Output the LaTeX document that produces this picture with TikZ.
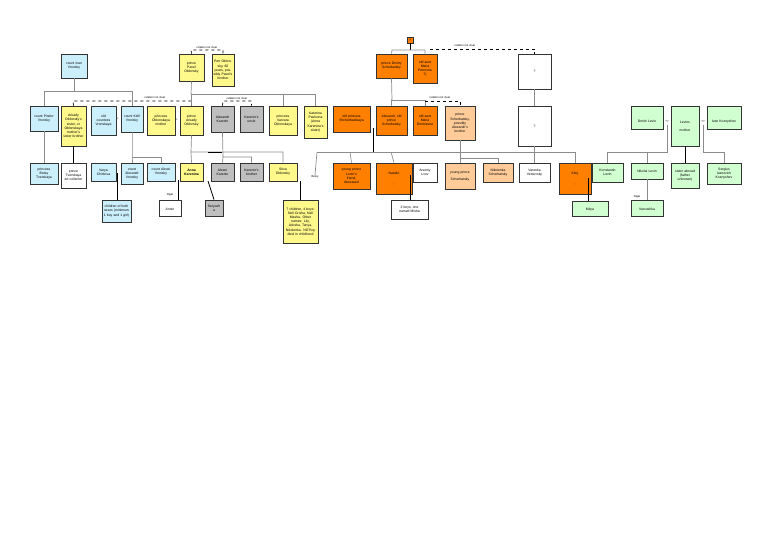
\documentclass[tikz,border=0pt]{standalone}
\usepackage{fontspec}
\setmainfont{Liberation Sans}
\begin{document}
\begin{tikzpicture}[x=1pt,y=-1pt,
  box/.style={draw=black!80,line width=0.9pt,inner sep=0.5pt,align=center,font=\fontsize{3.4}{4.2}\selectfont},
  cy/.style={box,fill=cyan!20},
  ye/.style={box,fill=yellow!45},
  gr/.style={box,fill=black!25},
  orn/.style={box,fill=orange},
  lo/.style={box,fill=orange!40},
  gn/.style={box,fill=green!18},
  wh/.style={box,fill=white},
  ln/.style={draw=black!45,line width=0.7pt},
  bl/.style={draw=black,line width=0.8pt},
  ds/.style={draw=black,dashed,line width=0.7pt},
  lbl/.style={font=\fontsize{2.8}{3}\selectfont,inner sep=0.5pt}]
\newcommand\bx[7]{\node[#6,minimum width={(#4-#2)*1pt},minimum height={(#5-#3)*1pt},text width={(#4-#2-2)*1pt}] (#1) at ({(#2+#4)/2},{(#3+#5)/2}) {#7};}
\useasboundingbox (0,0) rectangle (768,543);
% Vronsky
\bx{ivan}{61}{54}{87}{78}{cy}{count Ivan\\Vronsky}
\bx{pindor}{30}{106}{58}{131}{cy}{count Pindor\\Vronsky}
\bx{asis}{61}{106}{86}{146}{ye}{Arkady Oblonsky's sister, or Oblonskaya mother's sister brother}
\bx{oldc}{91}{106}{116}{135}{cy}{old\\countess\\Vronskaya}
\bx{kirill}{121}{106}{143}{132}{cy}{count Kirill\\Vronsky}
\bx{omother}{147}{106}{175}{135}{ye}{princess\\Oblonskaya\\mother}
\bx{arkady}{180}{106}{203}{135}{ye}{prince\\Arkady\\Oblonsky}
\bx{pavel}{179}{54}{204}{81}{ye}{prince\\Pavel\\Oblonsky}
\bx{petr}{212}{54}{234}{86}{ye}{Petr Oblonsky, 60 years, possibly Pavel's brother}
\bx{akarenin}{211}{106}{234}{132}{gr}{Alexandr\\Karenin}
\bx{kuncle}{240}{106}{263}{132}{gr}{Karenin's\\uncle}
\bx{varvara}{269}{106}{297}{135}{ye}{princess\\Varvara\\Oblonskaya}
\bx{katerina}{304}{106}{327}{138}{ye}{Katerina Pavlovna (Anna Karenina's sister)}
\bx{betsy}{30}{163}{58}{184}{cy}{princess\\Betsy\\Tverskaya}
\bx{tver}{61}{163}{86}{188}{wh}{prince\\Tverskaya\\art collector}
\bx{varya}{91}{163}{116}{181}{cy}{Varya\\Chirkova}
\bx{calex}{121}{163}{143}{184}{cy}{count\\Alexandr\\Vronsky}
\bx{alexei}{147}{163}{175}{181}{cy}{count Alexei\\Vronsky}
\bx{anna}{180}{163}{203}{181}{ye}{\bfseries Anna\\Karenina}
\bx{akar}{211}{163}{234}{181}{gr}{Alexei\\Karenin}
\bx{kbro}{240}{163}{263}{181}{gr}{Karenin's\\brother}
\bx{stiva}{269}{163}{297}{181}{ye}{Stiva\\Oblonsky}
\bx{kids}{102}{200}{131}{222}{cy}{children of both sexes (minimum 1 boy and 1 girl)}
\bx{annie}{159}{200}{181}{216}{wh}{\\Annie}
\bx{ser}{205}{200}{223}{216}{gr}{Seryozh\\a}
\bx{seven}{283}{200}{318}{243}{ye}{\raggedright 7 children, 4 boys: Nell Grisha, Nell Masha. Other names: Lily, Aliosha, Tanya, Nikolenka. NOTtoy died in childhood}
% Scherbatsky
\bx{q0}{407}{37}{413}{43}{orn}{?}
\bx{dmitry}{376}{54}{407}{78}{orn}{prince Dmitry\\Scherbatsky}
\bx{mpet}{413}{54}{437}{83}{orn}{old aunt\\Maria\\Petrovna\\?)}
\bx{q1}{518}{54}{551}{89}{wh}{?}
\bx{q2}{518}{106}{551}{146}{wh}{?}
\bx{oldpr}{333}{106}{370}{132}{orn}{old princess\\Shcherbatskaya}
\bx{alexs}{376}{106}{407}{135}{orn}{Alexandr, old\\prince\\Scherbatsky}
\bx{mdm}{413}{106}{437}{135}{orn}{old aunt\\Maria\\Dmitrievna}
\bx{psch}{445}{106}{475}{140}{lo}{prince\\Scherbatsky,\\possibly\\Alexandr's\\brother}
\node[lbl] (betsyl) at (315,177) {Betsy};
\bx{yprince}{333}{163}{370}{189}{orn}{young prince\\Levin's\\friend,\\deceased}
\bx{natalie}{376}{163}{412}{194}{orn}{Natalie\\[5pt],}
\bx{arseny}{413}{163}{437}{182}{wh}{Arseniy\\Lvov}
\bx{boys}{391}{200}{428}{219}{wh}{2 boys, one\\named Misha}
\bx{ypsch}{445}{163}{475}{189}{lo}{young prince\\[3pt]Scherbatsky}
\bx{nik}{483}{163}{513}{182}{lo}{Nikolenka\\Scherbatsky}
\bx{varenka}{519}{163}{550}{182}{wh}{Varenka\\Vestovsky}
\bx{kitty}{559}{163}{591}{194}{orn}{Kitty\\[5pt],}
\bx{mitya}{572}{201}{608}{216}{gn}{\\Mitya}
% Levin
\bx{klevin}{592}{163}{623}{182}{gn}{Konstantin\\Levin}
\bx{dlevin}{631}{106}{663}{129}{gn}{\\[6pt]Dmitri Levin}
\bx{lmother}{671}{106}{699}{146}{gn}{Levins\\[4pt]mother}
\bx{ivank}{707}{106}{741}{129}{gn}{\\[6pt]Ivan Koznyshev}
\bx{nlevin}{631}{163}{663}{179}{gn}{Nikolai Levin}
\bx{sister}{671}{163}{699}{188}{gn}{sister abroad\\(father\\unknown)}
\bx{sergius}{707}{163}{741}{184}{gn}{Sergius\\Ivanovich\\Koznyshev}
\bx{varv}{631}{200}{663}{216}{gn}{\\Varvushka}
% connectors Vronsky
\draw[ln] (ivan.south) -- (74,91) -| (pindor.north);
\draw[ln] (74,91) -| (kirill.north);
\draw[ds] (asis.north) -- (73,101) -| (arkady.north);
\node[lbl] at (155,97) {relation not clear};
\draw[ln] (pindor.south) -- (betsy.north);
\draw[bl] (asis.south) -- (tver.north);
\node[lbl] at (118,119) {+};
\node[lbl] at (177,120) {+};
\draw[ln] (kirill.south) -- (132,157) -| (calex.north);
\draw[ln] (132,157) -| (alexei.north);
\draw[bl] (117,173) -- (117,200);
\draw[bl] (178,180) -- (178,200);
\node[lbl] at (170,195) {illigal};
% Oblonsky
\draw[ln] (pavel.south) -- (191,94) -| (arkady.north);
\draw[ln] (191,94) -| (varvara.north);
\draw[ln] (191,94) -| (katerina.north);
\draw[ds] (pavel.north) -- (191,50) -| (petr.north);
\node[lbl] at (207,47) {relation not clear};
\draw[ds] (akarenin.north) -- (223,101) -| (kuncle.north);
\node[lbl] at (237,98) {relation not clear};
\draw[ln] (arkady.south) -- (191,152) -| (stiva.north);
\draw[ln] (191,152) -- (anna.north);
\draw[bl] (208,152) -- (222,152);
\draw[ln] (akarenin.south) -- (223,157) -| (kbro.north);
\draw[ln] (223,157) -- (akar.north);
\draw[bl] (208,181) -- (ser.north);
\draw[bl] (300,181) -- (300,200);
% Scherbatsky
\draw[bl] (q0.south) -- (410,50);
\draw[ln] (dmitry.north) -- (392,50) -| (mpet.north);
\draw[ds] (430,49) -| (q1.north);
\node[lbl] at (465,45) {relation not clear};
\draw[ln] (dmitry.south) -- (392,100) -| (alexs.north);
\draw[ln] (392,100) -| (mdm.north);
\draw[ds] (425,101) -| (psch.north);
\node[lbl] at (440,97) {relation not clear};
\draw[bl] (373,128) -- (373,152);
\draw[ln] (317,152) -- (575,152);
\draw[ln] (317,152) -- (betsyl.north);
\draw[ln] (350,152) -- (yprince.north);
\draw[ln] (391,152) -- (natalie.north);
\draw[ln] (575,152) -- (575,163);
\draw[ln] (psch.south) -- (460,158) -| (nik.north);
\draw[ln] (460,158) -- (ypsch.north);
\draw[ln] (q1.south) -- (q2.north);
\draw[ln] (q2.south) -- (varenka.north);
\draw[bl] (410,175) -- (410,200);
\draw[bl] (588,178) -- (588,201);
% Levin
\node[lbl] at (667,122) {??};
\node[lbl] at (703,122) {??};
\draw[ln] (667,125) -- (667,152) -| (klevin.north);
\draw[ln] (667,152) -| (nlevin.north);
\draw[bl] (lmother.south) -- (sister.north);
\draw[ln] (703,125) -- (703,152) -| (sergius.north);
\draw[ln] (nlevin.south) -- (varv.north);
\node[lbl] at (637,197) {illigal};
\end{tikzpicture}
\end{document}
